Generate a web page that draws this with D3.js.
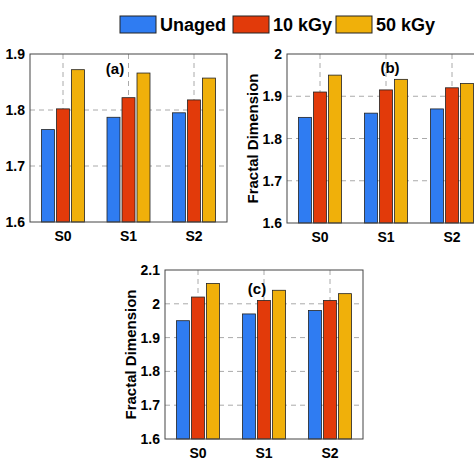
<!DOCTYPE html><html><head><script src="https://cdn.jsdelivr.net/npm/d3@7"></script>
<style>body{margin:0;background:#fff}text{font-family:Arial,"Liberation Sans",sans-serif;font-weight:bold}</style></head><body>
<svg id="c" width="474" height="474"></svg>
<script>
const categories=["S0","S1","S2"];
const seriesNames=["Unaged","10 kGy","50 kGy"];
const colors=["#2f7cf2","#e23a0a","#f0b00a"];
const aVals=[[1.765,1.787,1.795],[1.802,1.822,1.818],[1.872,1.866,1.857]];
const bVals=[[1.85,1.86,1.87],[1.91,1.915,1.92],[1.95,1.94,1.93]];
const cVals=[[1.95,1.97,1.98],[2.02,2.01,2.01],[2.06,2.04,2.03]];
const aTicks=[1.6,1.7,1.8,1.9], bTicks=[1.6,1.7,1.8,1.9,2.0], cTicks=[1.6,1.7,1.8,1.9,2.0,2.1];
const svg=d3.select("#c");
function panel(x0,y0,w,h,vals,ticks,label,ylab,lx,ly){
  const g=svg.append("g").attr("transform",`translate(${x0},${y0})`);
  const x=d3.scalePoint().domain(categories).range([33,w-33]);
  const y=d3.scaleLinear().domain([ticks[0],ticks[ticks.length-1]]).range([h,0]);
  ticks.slice(1,-1).forEach(t=>g.append("line").attr("x1",0).attr("x2",w).attr("y1",y(t)).attr("y2",y(t)).attr("stroke","#aaa").attr("stroke-dasharray","5,4"));
  categories.forEach(c=>g.append("line").attr("x1",x(c)).attr("x2",x(c)).attr("y1",0).attr("y2",h).attr("stroke","#aaa").attr("stroke-dasharray","5,4"));
  const bw=13,gap=2;
  vals.forEach((s,si)=>s.forEach((v,ci)=>{
    const cx=x(categories[ci])+(si-1)*(bw+gap);
    g.append("rect").attr("x",cx-bw/2).attr("y",y(v)).attr("width",bw).attr("height",h-y(v)).attr("fill",colors[si]).attr("stroke","#222").attr("stroke-width",0.8);
  }));
  g.append("rect").attr("width",w).attr("height",h).attr("fill","none").attr("stroke","#444");
  ticks.forEach(t=>g.append("text").attr("x",-5).attr("y",y(t)+5).attr("text-anchor","end").attr("font-size",14).text(d3.format(t===2?"d":".1f")(t)).text(t===2?"2":t.toFixed(1)));
  categories.forEach(c=>g.append("text").attr("x",x(c)).attr("y",h+19).attr("text-anchor","middle").attr("font-size",14).text(c));
  g.append("text").attr("x",lx).attr("y",ly).attr("text-anchor","middle").attr("font-size",15).text(label);
  if(ylab) g.append("text").attr("transform",`translate(-29,${h/2}) rotate(-90)`).attr("text-anchor","middle").attr("font-size",15).text("Fractal Dimension");
}
panel(30,54,197,168,aVals,aTicks,"(a)",false,85,20);
panel(287,54,198,169,bVals,bTicks,"(b)",true,103,19);
panel(165,270,198,169,cVals,cTicks,"(c)",true,92,24);
const lx=[120,233,336];
seriesNames.forEach((n,i)=>{
  svg.append("rect").attr("x",lx[i]).attr("y",16).attr("width",36).attr("height",17).attr("fill",colors[i]).attr("stroke","#222");
  svg.append("text").attr("x",lx[i]+40).attr("y",31).attr("font-size",18).text(n);
});
</script></body></html>
